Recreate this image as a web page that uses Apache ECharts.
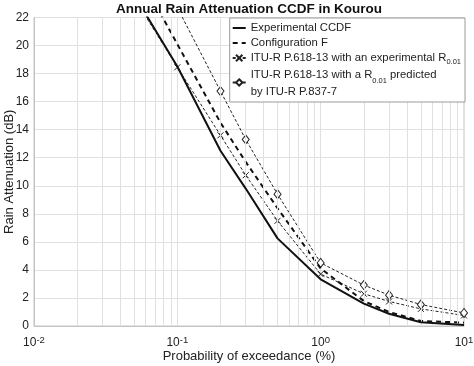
<!DOCTYPE html>
<html><head><meta charset="utf-8">
<script src="https://cdn.jsdelivr.net/npm/echarts@6/dist/echarts.min.js"></script>
<style>html,body{margin:0;padding:0;background:#fff}#c{width:474px;height:366px}</style>
</head><body><div id="c"></div>
<script>
const probs = [0.05, 0.1, 0.2, 0.3, 0.5, 1, 2, 3, 5, 10];
const experimentalCCDF = [23.6, 18.5, 12.5, 9.8, 6.25, 3.33, 1.6, 0.87, 0.27, 0.07];
const configurationF = [25.7, 20.1, 14.5, 11.7, 8.4, 4.1, 1.78, 1.0, 0.36, 0.24];
const ituExperimentalR = [23.4, 18.45, 13.6, 10.75, 7.5, 3.7, 2.3, 1.75, 1.22, 0.75];
const ituPredictedR = [28.7, 22.7, 16.75, 13.3, 9.4, 4.5, 2.92, 2.2, 1.53, 0.93];
const minorGridX = [0.02,0.03,0.04,0.05,0.06,0.07,0.08,0.09,0.2,0.3,0.4,0.5,0.6,0.7,0.8,0.9,2,3,4,5,6,7,8,9];
const seriesNames = ['Experimental CCDF','Configuration F','ITU-R exp','ITU-R pred'];
const legendLabels = {
  'Experimental CCDF': 'Experimental CCDF',
  'Configuration F': 'Configuration F',
  'ITU-R exp': 'ITU-R P.618-13 with an experimental {r|R}{sub|0.01}',
  'ITU-R pred': 'ITU-R P.618-13 with a {r19|R}{sub19|0.01} predicted\nby ITU-R P.837-7'
};
const titleText = 'Annual Rain Attenuation CCDF in Kourou';
const xName = 'Probability of exceedance (%)';
const yName = 'Rain Attenuation (dB)';

const pairs = vals => probs.map((p, i) => [p, vals[i]]);
const FONT = '"Liberation Sans", Arial, Helvetica, sans-serif';
const ink = '#111';
const LFS = 11.3;

const chart = echarts.init(document.getElementById('c'), null, {renderer: 'canvas'});
chart.setOption({
  animation: false,
  backgroundColor: '#fff',
  textStyle: {fontFamily: FONT},
  title: {
    text: titleText, left: 244, top: -3, textAlign: 'center',
    textStyle: {fontFamily: FONT, fontSize: 13.5, fontWeight: 'bold', color: '#111'}
  },
  grid: {left: 34, right: 10, top: 17.5, bottom: 40, outerBoundsMode: 'none', containLabel: false,
    show: true, borderColor: '#c4c4c4', borderWidth: 1, backgroundColor: 'transparent'},
  xAxis: {
    type: 'log', logBase: 10, min: 0.01, max: 10,
    name: xName, nameLocation: 'middle', nameGap: 24, nameMoveOverlap: false,
    nameTextStyle: {fontFamily: FONT, fontSize: 13, color: '#222'},
    axisLine: {show: true, lineStyle: {color: '#c4c4c4'}},
    axisTick: {show: false},
    splitLine: {show: true, lineStyle: {color: '#e0e0e0', width: 1}},
    axisLabel: {
      margin: 9, color: '#222', fontFamily: FONT,
      formatter: v => '{b|10}{s|' + Math.round(Math.log10(v)) + '}',
      rich: {
        b: {fontSize: 12, lineHeight: 16, color: '#222', fontFamily: FONT},
        s: {fontSize: 9.5, lineHeight: 9, color: '#222', verticalAlign: 'top', fontFamily: FONT}
      }
    }
  },
  yAxis: {
    type: 'value', min: 0, max: 22, interval: 2,
    name: yName, nameLocation: 'middle', nameGap: 18.5, nameMoveOverlap: false,
    nameTextStyle: {fontFamily: FONT, fontSize: 13, color: '#222'},
    axisLine: {show: true, lineStyle: {color: '#c4c4c4'}},
    axisTick: {show: false},
    splitLine: {show: true, lineStyle: {color: '#e0e0e0', width: 1}},
    axisLabel: {margin: 5, fontSize: 12, color: '#222', fontFamily: FONT}
  },
  legend: {
    z: 10, orient: 'vertical', right: 9, top: 18, itemGap: 0, itemWidth: 13, itemHeight: 8,
    padding: [2.5, 4, 2.5, 2], borderColor: '#9a9a9a', borderWidth: 1, backgroundColor: '#fff',
    data: seriesNames,
    formatter: n => legendLabels[n],
    textStyle: {fontFamily: FONT, fontSize: LFS, lineHeight: 15, color: '#222',
      rich: {
        r: {fontSize: LFS, lineHeight: 15, color: '#222', fontFamily: FONT},
        sub: {fontSize: 7.5, lineHeight: 7, color: '#222', verticalAlign: 'bottom', fontFamily: FONT},
        r19: {fontSize: LFS, lineHeight: 19, color: '#222', fontFamily: FONT},
        sub19: {fontSize: 7.5, lineHeight: 11, color: '#222', verticalAlign: 'bottom', fontFamily: FONT}
      }}
  },
  series: [
    {type: 'line', data: [], z: 1, silent: true,
      markLine: {silent: true, symbol: ['none', 'none'], label: {show: false},
        lineStyle: {color: '#e0e0e0', type: 'solid', width: 1},
        data: minorGridX.map(v => ({xAxis: v}))}},
    {name: seriesNames[0], type: 'line', data: pairs(experimentalCCDF), showSymbol: false, symbol: 'circle',
      lineStyle: {color: ink, width: 2}, itemStyle: {color: 'transparent', borderColor: 'transparent'}, clip: true, z: 5},
    {name: seriesNames[1], type: 'line', data: pairs(configurationF), showSymbol: false, symbol: 'circle',
      lineStyle: {color: ink, width: 2, type: [5, 4]}, itemStyle: {color: 'transparent', borderColor: 'transparent'}, clip: true, z: 4},
    {name: seriesNames[2], type: 'line', data: pairs(ituExperimentalR),
      symbol: 'path://M0,0L10,10M10,0L0,10', symbolSize: 6, showSymbol: true,
      lineStyle: {color: '#222', width: 1, type: [3, 2]},
      itemStyle: {color: 'transparent', borderColor: '#222', borderWidth: 1}, clip: true, z: 3},
    {name: seriesNames[3], type: 'line', data: pairs(ituPredictedR),
      symbol: 'diamond', symbolSize: [7, 9], showSymbol: true,
      lineStyle: {color: '#222', width: 1, type: [3, 2]},
      itemStyle: {color: '#fff', borderColor: '#222', borderWidth: 1}, clip: true, z: 3}
  ]
});
</script></body></html>
